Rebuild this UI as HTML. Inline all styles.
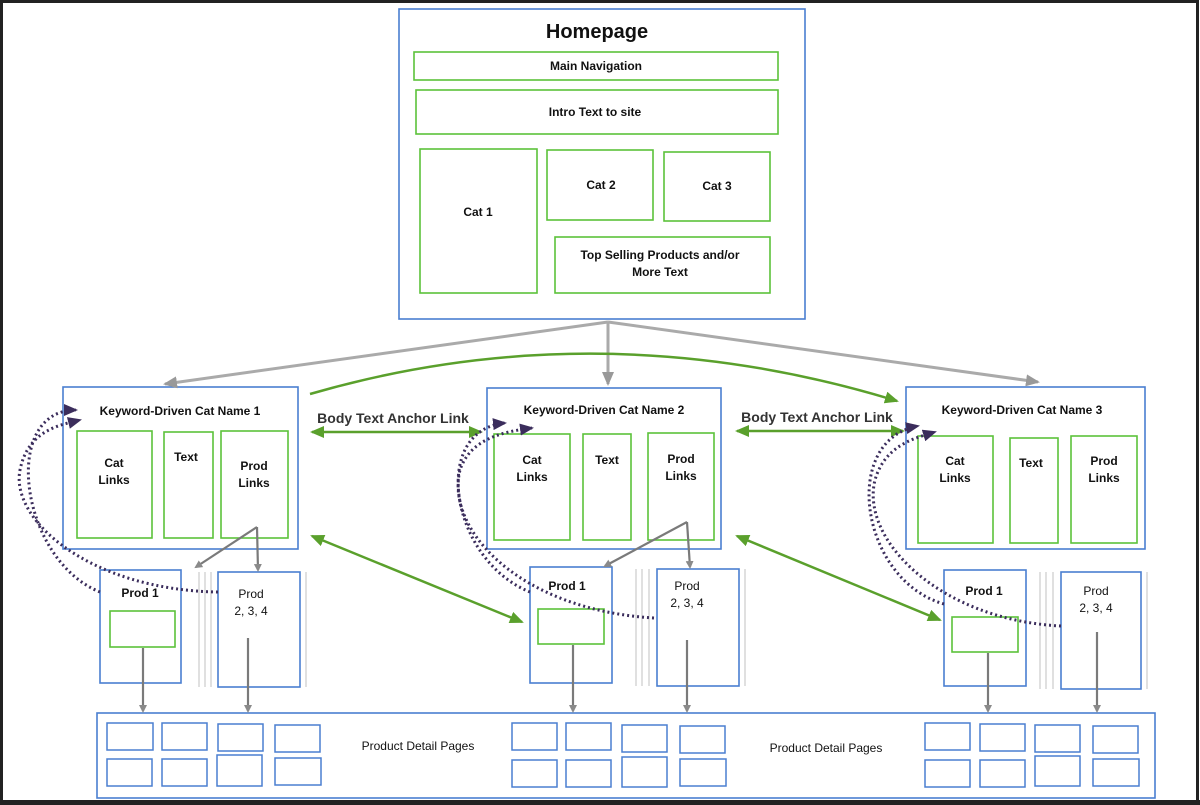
<!DOCTYPE html>
<html><head><meta charset="utf-8"><style>
html,body{margin:0;padding:0;background:#fff}
svg{display:block}
text{font-family:"Liberation Sans",sans-serif;fill:#111}
</style></head><body>
<svg width="1200" height="805" viewBox="0 0 1200 805" xmlns="http://www.w3.org/2000/svg">
<defs>
<marker id="ag" markerWidth="8" markerHeight="8" refX="6" refY="4" orient="auto" markerUnits="userSpaceOnUse"><path d="M0,0 L8,4 L0,8 z" fill="#8a8a8a"/></marker>
<marker id="agl" markerWidth="14" markerHeight="12" refX="12" refY="6" orient="auto" markerUnits="userSpaceOnUse"><path d="M0,0 L14,6 L0,12 z" fill="#999"/></marker>
<marker id="gr" markerWidth="14" markerHeight="12" refX="12" refY="6" orient="auto" markerUnits="userSpaceOnUse"><path d="M0,0 L14,6 L0,12 z" fill="#5aa02c"/></marker>
<marker id="grs" markerWidth="14" markerHeight="12" refX="2" refY="6" orient="auto" markerUnits="userSpaceOnUse"><path d="M14,0 L0,6 L14,12 z" fill="#5aa02c"/></marker>
<marker id="pu" markerWidth="14" markerHeight="12" refX="12" refY="6" orient="auto" markerUnits="userSpaceOnUse"><path d="M0,0 L14,6 L0,12 z" fill="#3b2d5c"/></marker>
</defs>
<rect x="0" y="0" width="1200" height="805" fill="#fff"/>
<rect x="1.5" y="1.5" width="1196" height="800" fill="none" stroke="#222" stroke-width="3"/>
<rect x="0" y="800" width="1200" height="5" fill="#222"/>

<g fill="#fff" stroke="#4a7fd0" stroke-width="1.6">
<rect x="399" y="9" width="406" height="310"/>
<rect x="63" y="387" width="235" height="162"/>
<rect x="487" y="388" width="234" height="161"/>
<rect x="906" y="387" width="239" height="162"/>
<rect x="97" y="713" width="1058" height="85"/>
</g>
<g fill="none" stroke="#5cc23a" stroke-width="1.6">
<rect x="414" y="52" width="364" height="28"/>
<rect x="416" y="90" width="362" height="44"/>
<rect x="420" y="149" width="117" height="144"/>
<rect x="547" y="150" width="106" height="70"/>
<rect x="664" y="152" width="106" height="69"/>
<rect x="555" y="237" width="215" height="56"/>
<rect x="77" y="431" width="75" height="107"/>
<rect x="164" y="432" width="49" height="106"/>
<rect x="221" y="431" width="67" height="107"/>
<rect x="494" y="434" width="76" height="106"/>
<rect x="583" y="434" width="48" height="106"/>
<rect x="648" y="433" width="66" height="107"/>
<rect x="918" y="436" width="75" height="107"/>
<rect x="1010" y="438" width="48" height="105"/>
<rect x="1071" y="436" width="66" height="107"/>
</g>
<text x="597" y="38" font-size="20" font-weight="bold" text-anchor="middle">Homepage</text>
<g font-size="12" font-weight="bold" text-anchor="middle">
<text x="596" y="70">Main Navigation</text>
<text x="595" y="116">Intro Text to site</text>
<text x="478" y="216">Cat 1</text>
<text x="601" y="189">Cat 2</text>
<text x="717" y="190">Cat 3</text>
<text x="660" y="259">Top Selling Products and/or</text>
<text x="660" y="276">More Text</text>
<text x="180" y="415">Keyword-Driven Cat Name 1</text>
<text x="604" y="414">Keyword-Driven Cat Name 2</text>
<text x="1022" y="414">Keyword-Driven Cat Name 3</text>
<text x="114" y="467">Cat</text><text x="114" y="484">Links</text>
<text x="186" y="461">Text</text>
<text x="254" y="470">Prod</text><text x="254" y="487">Links</text>
<text x="532" y="464">Cat</text><text x="532" y="481">Links</text>
<text x="607" y="464">Text</text>
<text x="681" y="463">Prod</text><text x="681" y="480">Links</text>
<text x="955" y="465">Cat</text><text x="955" y="482">Links</text>
<text x="1031" y="467">Text</text>
<text x="1104" y="465">Prod</text><text x="1104" y="482">Links</text>
</g>
<g font-size="14" font-weight="bold" text-anchor="middle">
<text x="393" y="423" style="fill:#333">Body Text Anchor Link</text>
<text x="817" y="422" style="fill:#333">Body Text Anchor Link</text>
</g>

<!-- prod stacks -->
<g fill="none" stroke="#ccc" stroke-width="1.2">
<path d="M199,572 v115 M205,572 v115 M211,572 v115 M306,572 v115"/>
<path d="M636,569 v117 M642,569 v117 M649,569 v117 M745,569 v117"/>
<path d="M1040,572 v117 M1046,572 v117 M1053,572 v117 M1147,572 v117"/>
</g>
<g fill="#fff" stroke="#4a7fd0" stroke-width="1.6">
<rect x="100" y="570" width="81" height="113"/>
<rect x="218" y="572" width="82" height="115"/>
<rect x="530" y="567" width="82" height="116"/>
<rect x="657" y="569" width="82" height="117"/>
<rect x="944" y="570" width="82" height="116"/>
<rect x="1061" y="572" width="80" height="117"/>
</g>
<g fill="none" stroke="#5cc23a" stroke-width="1.6">
<rect x="110" y="611" width="65" height="36"/>
<rect x="538" y="609" width="66" height="35"/>
<rect x="952" y="617" width="66" height="35"/>
</g>
<g font-size="12" font-weight="bold" text-anchor="middle">
<text x="140" y="597">Prod 1</text>
<text x="567" y="590">Prod 1</text>
<text x="984" y="595">Prod 1</text>
</g>
<g font-size="12" text-anchor="middle">
<text x="251" y="598">Prod</text><text x="251" y="615">2, 3, 4</text>
<text x="687" y="590">Prod</text><text x="687" y="607">2, 3, 4</text>
<text x="1096" y="595">Prod</text><text x="1096" y="612">2, 3, 4</text>
<text x="418" y="750">Product Detail Pages</text>
<text x="826" y="752">Product Detail Pages</text>
</g>

<!-- small product boxes -->
<g fill="#fff" stroke="#4a7fd0" stroke-width="1.5">
<rect x="107" y="723" width="46" height="27"/><rect x="162" y="723" width="45" height="27"/><rect x="218" y="724" width="45" height="27"/><rect x="275" y="725" width="45" height="27"/>
<rect x="107" y="759" width="45" height="27"/><rect x="162" y="759" width="45" height="27"/><rect x="217" y="755" width="45" height="31"/><rect x="275" y="758" width="46" height="27"/>
<rect x="512" y="723" width="45" height="27"/><rect x="566" y="723" width="45" height="27"/><rect x="622" y="725" width="45" height="27"/><rect x="680" y="726" width="45" height="27"/>
<rect x="512" y="760" width="45" height="27"/><rect x="566" y="760" width="45" height="27"/><rect x="622" y="757" width="45" height="30"/><rect x="680" y="759" width="46" height="27"/>
<rect x="925" y="723" width="45" height="27"/><rect x="980" y="724" width="45" height="27"/><rect x="1035" y="725" width="45" height="27"/><rect x="1093" y="726" width="45" height="27"/>
<rect x="925" y="760" width="45" height="27"/><rect x="980" y="760" width="45" height="27"/><rect x="1035" y="756" width="45" height="30"/><rect x="1093" y="759" width="46" height="27"/>
</g>

<!-- gray arrows from homepage -->
<g stroke="#aaa" stroke-width="3" fill="none">
<path d="M608,322 L165,384" marker-end="url(#agl)"/>
<path d="M608,322 L608,384" marker-end="url(#agl)"/>
<path d="M608,322 L1038,382" marker-end="url(#agl)"/>
</g>
<!-- gray arrows prod links -->
<g stroke="#7a7a7a" stroke-width="2.2" fill="none">
<path d="M257,527 L196,567" marker-end="url(#ag)"/><path d="M257,527 L258,570" marker-end="url(#ag)"/>
<path d="M687,522 L605,566" marker-end="url(#ag)"/><path d="M687,522 L690,567" marker-end="url(#ag)"/>
<path d="M143,648 L143,711" marker-end="url(#ag)"/><path d="M248,638 L248,711" marker-end="url(#ag)"/>
<path d="M573,645 L573,711" marker-end="url(#ag)"/><path d="M687,640 L687,711" marker-end="url(#ag)"/>
<path d="M988,653 L988,711" marker-end="url(#ag)"/><path d="M1097,632 L1097,711" marker-end="url(#ag)"/>
</g>
<!-- green arrows -->
<g stroke="#5aa02c" stroke-width="2.5" fill="none">
<path d="M310,394 Q600,310 897,401" marker-end="url(#gr)"/>
<path d="M312,432 L481,432" marker-start="url(#grs)" marker-end="url(#gr)"/>
<path d="M737,431 L903,431" marker-start="url(#grs)" marker-end="url(#gr)"/>
<path d="M312,536 L522,622" marker-start="url(#grs)" marker-end="url(#gr)"/>
<path d="M737,536 L940,620" marker-start="url(#grs)" marker-end="url(#gr)"/>
</g>
<!-- purple dotted -->
<g stroke="#3b2d5c" stroke-width="3" stroke-dasharray="2,3" fill="none">
<path d="M100,592 C20,560 0,410 76,410" marker-end="url(#pu)"/>
<path d="M218,592 C90,590 10,520 20,470 C28,430 60,425 80,420" marker-end="url(#pu)"/>
<path d="M530,592 C450,560 430,430 505,423" marker-end="url(#pu)"/>
<path d="M654,618 C520,610 445,530 460,470 C470,440 500,432 532,428" marker-end="url(#pu)"/>
<path d="M944,604 C860,580 840,440 918,426" marker-end="url(#pu)"/>
<path d="M1061,626 C940,620 860,540 875,480 C885,445 915,438 935,432" marker-end="url(#pu)"/>
</g>
</svg>
</body></html>
